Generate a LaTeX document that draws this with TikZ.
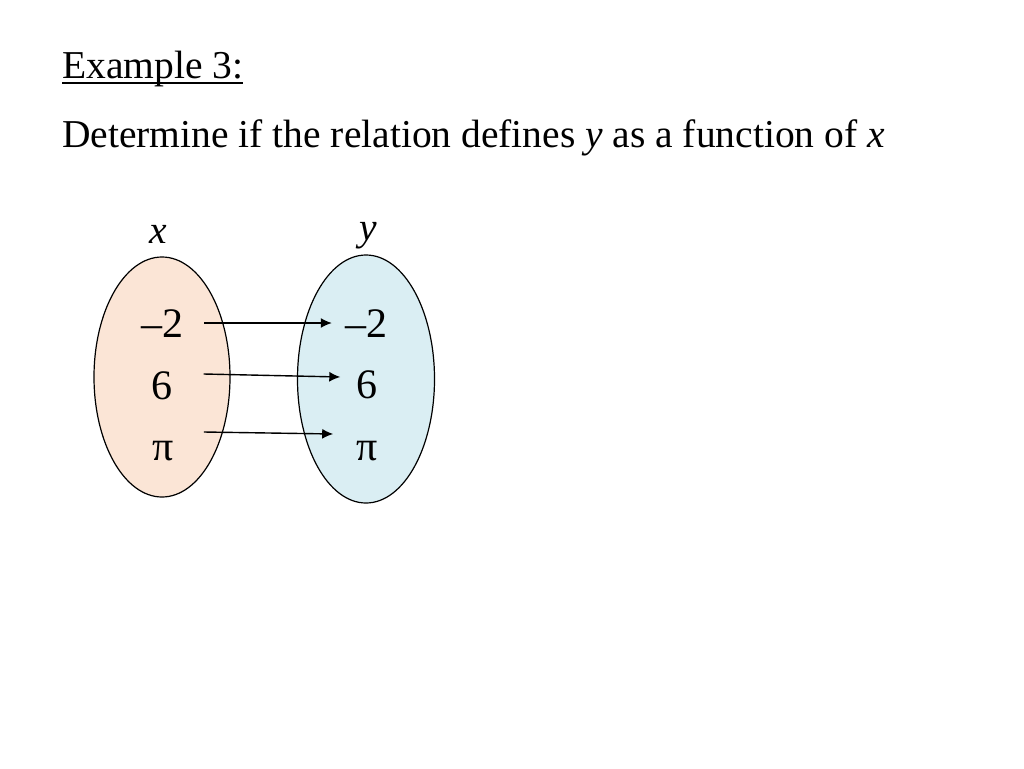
\documentclass[tikz,border=0pt]{standalone}
\usepackage{fontspec}
\setmainfont{Liberation Serif}
\usetikzlibrary{shapes.geometric,arrows.meta}
\definecolor{domfill}{RGB}{251,229,214}
\definecolor{rngfill}{RGB}{218,238,243}
\tikzset{
  txt/.style={inner sep=0pt,font=\fontsize{39.5}{47}\selectfont},
  val/.style={txt,anchor=base,font=\fontsize{42}{50}\selectfont},
  setoval/.style={ellipse,draw,line width=1.2pt,inner sep=0pt},
  mapto/.style={-{Latex[length=11pt,width=10pt]},line width=1.4pt}
}
\begin{document}
\begin{tikzpicture}[x=1pt,y=-1pt]
\useasboundingbox[fill=white] (0,0) rectangle (1024,768);
\node[txt,anchor=base west] (ex) at (62,78) {Example 3:};
\draw[line width=1.3pt] ([yshift=-5pt]ex.base west)--([yshift=-5pt]ex.base east);
\node[txt,anchor=base west] (task) at (62,147) {Determine if the relation defines \textit{y} as a function of \textit{x}};
\node[txt,anchor=base] (xlab) at (158,243) {\textit{x}};
\node[txt,anchor=base] (ylab) at (368,240) {\textit{y}};
\node[setoval,fill=domfill,minimum width=136pt,minimum height=240pt] (xset) at (162,377) {};
\node[setoval,fill=rngfill,minimum width=137pt,minimum height=248pt] (yset) at (366,379) {};
% domain values
\node[val] (xa) at (162,337) {–2};
\node[val] (xb) at (162,399) {6};
\node[val] (xc) at (163,460) {π};
% range values
\node[val] (ya) at (366,337) {–2};
\node[val] (yb) at (367,398) {6};
\node[val] (yc) at (367,460) {π};
\draw[mapto] ([xshift=21pt,yshift=14pt]xa.base east)--([xshift=-13pt,yshift=14pt]ya.base west);
\draw[mapto] ([xshift=31pt,yshift=25pt]xb.base east)--([xshift=-16pt,yshift=21pt]yb.base west);
\draw[mapto] ([xshift=30pt,yshift=28pt]xc.base east)--([xshift=-23pt,yshift=26pt]yc.base west);
\end{tikzpicture}
\end{document}
